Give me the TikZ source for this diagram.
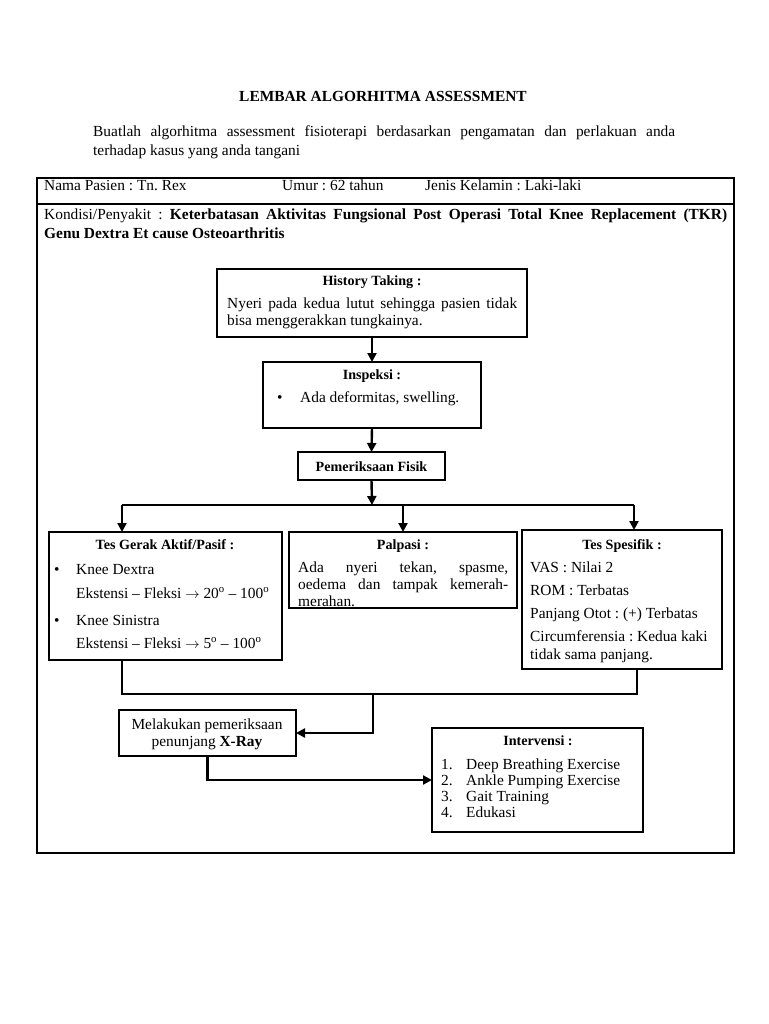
\documentclass[tikz,border=0pt]{standalone}
\usepackage{fontspec}
\setmainfont{Liberation Serif}
\usepackage{tikz}
\usetikzlibrary{arrows.meta}
\frenchspacing

\begin{document}
\begin{tikzpicture}[x=1pt,y=-1pt,
  every node/.style={inner sep=0pt,font=\fontsize{15.4}{17.7}\selectfont},
  box/.style n args={2}{draw,line width=1.2pt,minimum width=#1pt,minimum height=#2pt,anchor=north west,inner sep=0pt,outer sep=0pt},
  ttl/.style={anchor=base,font=\fontsize{14.1}{16}\selectfont\bfseries},
  txt/.style={anchor=base west},
  arr/.style={line width=2.4pt,-{Triangle[length=9pt,width=9pt]}},
  link/.style={line width=2.4pt}]
\useasboundingbox[fill=white] (0,0) rectangle (768,1024);
% header
\node[anchor=base,font=\fontsize{15.4}{17.7}\selectfont\bfseries] (judul) at (383,102) {LEMBAR ALGORHITMA ASSESSMENT};
\node[txt] (instr1) at (93,137) {\makebox[582pt][s]{Buatlah algorhitma assessment fisioterapi berdasarkan pengamatan dan perlakuan anda}};
\node[txt] (instr2) at (93,156) {terhadap kasus yang anda tangani};
% table
\draw[line width=1.2pt] (37,178) rectangle (734,853);
\draw[line width=1.2pt] (37,204) -- (734,204);
\node[txt] (nama) at (44,191) {Nama Pasien : Tn. Rex};
\node[txt] (umur) at (282,191) {Umur : 62 tahun};
\node[txt] (jk) at (425,191) {Jenis Kelamin : Laki-laki};
\node[txt] (kond1) at (44,220) {\makebox[683pt][s]{Kondisi/Penyakit : \textbf{Keterbatasan Aktivitas Fungsional Post Operasi Total Knee Replacement (TKR)}}};
\node[txt] (kond2) at (44,238) {\textbf{Genu Dextra Et cause Osteoarthritis}};
% history taking
\node[box={310}{68}] (hist) at (217,269) {};
\node[ttl] at (372,285) {History Taking :};
\node[txt] at (227,308) {\makebox[290pt][s]{Nyeri pada kedua lutut sehingga pasien tidak}};
\node[txt] at (227,325) {bisa menggerakkan tungkainya.};
% inspeksi
\node[box={218}{66}] (insp) at (263,362) {};
\node[ttl] at (372,379) {Inspeksi :};
\node[txt] at (277,402) {\textbullet};
\node[txt] at (300,402) {Ada deformitas, swelling.};
% pemeriksaan fisik
\node[box={147}{28}] (pemfis) at (298,452) {};
\node[ttl] at (pemfis.center) [anchor=center,yshift=-1pt] {Pemeriksaan Fisik};
\draw[arr] (hist.south) -- (insp.north);
\draw[arr] (insp.south) -- (pemfis.north);
% tiga cabang
\node[box={233}{128}] (gerak) at (49,532) {};
\node[ttl] at (165,549) {Tes Gerak Aktif/Pasif :};
\node[txt] at (54,574) {\textbullet};
\node[txt] at (76,574) {Knee Dextra};
\node[txt] at (76,598) {Ekstensi -- Fleksi $\rightarrow$ 20\textsuperscript{o} -- 100\textsuperscript{o}};
\node[txt] at (54,625) {\textbullet};
\node[txt] at (76,625) {Knee Sinistra};
\node[txt] at (76,648) {Ekstensi -- Fleksi $\rightarrow$ 5\textsuperscript{o} -- 100\textsuperscript{o}};
\node[box={228}{76}] (palpasi) at (289,532) {};
\node[ttl] at (403,549) {Palpasi :};
\node[txt] at (298,572) {\makebox[210pt][s]{Ada nyeri tekan, spasme,}};
\node[txt] at (298,589) {\makebox[210pt][s]{oedema dan tampak kemerah-}};
\node[txt] at (298,606) {merahan.};
\node[box={200}{139}] (spesifik) at (522,530) {};
\node[ttl] at (622,549) {Tes Spesifik :};
\node[txt] at (530,572) {VAS : Nilai 2};
\node[txt] at (530,595) {ROM : Terbatas};
\node[txt] at (530,618) {Panjang Otot : (+) Terbatas};
\node[txt] at (530,641) {Circumferensia : Kedua kaki};
\node[txt] at (530,659) {tidak sama panjang.};
\coordinate (cabang) at (372,505);
\draw[arr] (pemfis.south) -- (cabang);
\draw[link] (122,505) -- (634,505);
\foreach \x/\n in {122/gerak,403/palpasi,634/spesifik} {
  \draw[arr] (\x,505) -- (\x,0 |- \n.north);
}
% penunjang dan intervensi
\node[box={177}{46}] (xray) at (119,710) {};
\node[anchor=base] at (207,729) {Melakukan pemeriksaan};
\node[anchor=base] at (207,746) {penunjang \textbf{X-Ray}};
\node[box={211}{104}] (interv) at (432,728) {};
\node[ttl] at (538,745) {Intervensi :};
\foreach \i/\y/\t in {1/769/Deep Breathing Exercise,2/785/Ankle Pumping Exercise,3/801/Gait Training,4/817/Edukasi} {
  \node[txt] at (441,\y) {\i.};
  \node[txt] at (466,\y) {\t};
}
\draw[link] (122,0 |- gerak.south) -- (122,694) -- (637,694) -- (637,0 |- spesifik.south);
\draw[arr] (373,694) |- (xray.east);
\draw[arr] (xray.south) |- (interv.west);
\end{tikzpicture}
\end{document}
